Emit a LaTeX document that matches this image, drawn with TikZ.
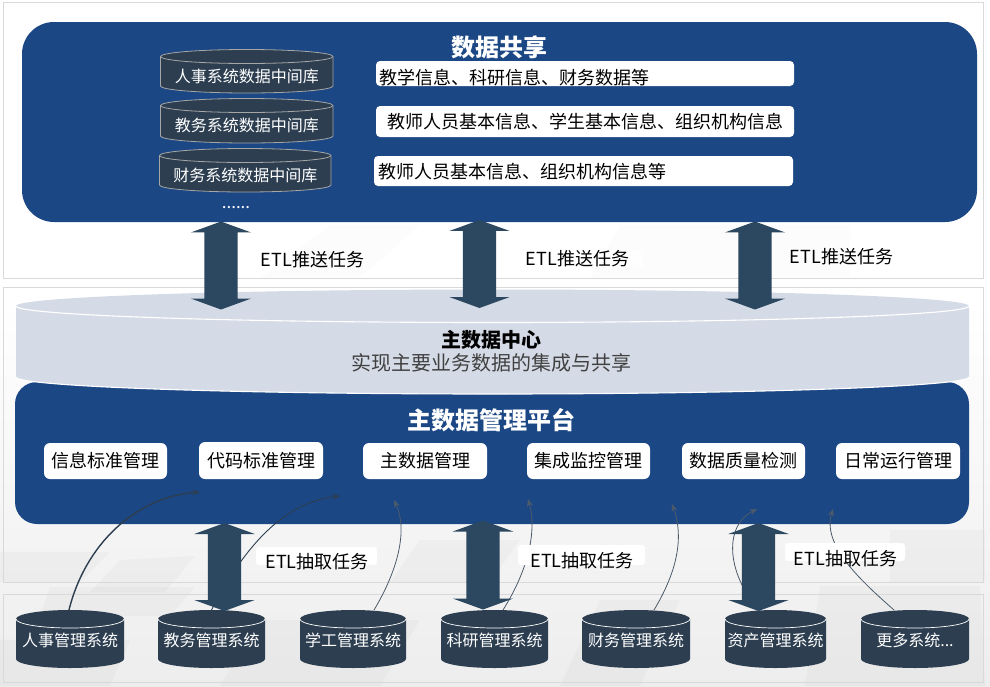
\documentclass[tikz,border=0pt]{standalone}
\usepackage{fontspec}
\setmainfont{Noto Sans CJK SC}
\usetikzlibrary{shapes.arrows,arrows.meta,calc}
\definecolor{navy}{HTML}{1C4785}
\definecolor{cyl}{HTML}{2C3E50}
\definecolor{arr}{HTML}{2C4760}
\definecolor{disk}{HTML}{D5DBE6}
\definecolor{frame}{HTML}{D9D9D9}
\newcommand{\fs}[1]{\fontsize{#1}{#1}\selectfont}
\tikzset{
  x=1pt,y=-1pt,
  panel/.style={fill=navy,rounded corners=#1},
  framebox/.style={draw=frame,line width=0.8pt},
  shard/.style={fill=black,opacity=0.025},
  whitebox/.style={fill=white,rounded corners=#1,draw=none},
  anchorbox/.style={inner sep=0pt,outer sep=0pt,draw=none},
  bigarrow/.style={shape=double arrow,fill=arr,draw=none,rotate=90,inner xsep=0pt,inner ysep=16.5pt,outer sep=0pt,
    double arrow head extend=13.5pt,double arrow tip angle=140,minimum height=#1},
  flow/.style={draw=#1,-{Stealth[length=7.5pt,width=6pt]}},
  flow/.default=cyl,
  boxtext/.style={text=black,font=\fs{18},inner sep=0pt},
  cyltext/.style={text=white,font=\fs{#1},inner sep=0pt},
  etl/.style={text=black,font=\fs{18},inner sep=0pt},
}
% #1 name, #2 x0, #3 x1, #4 y top-ellipse centre, #5 y bottom-ellipse centre, #6 ry, #7 edge, #8 text y, #9 text
\newcommand{\tank}[9]{%
  \pgfmathsetmacro{\rxx}{(#3-#2)/2}
  \path[fill=cyl,#7] (#2,#4) arc[start angle=180,end angle=0,x radius=\rxx pt,y radius=#6pt]
     -- (#3,#5) arc[start angle=360,end angle=180,x radius=\rxx pt,y radius=#6pt] -- cycle;
  \draw[#7] (#2,#4) arc[start angle=180,end angle=360,x radius=\rxx pt,y radius=#6pt];
  \node[anchorbox,minimum width={(#3-#2)*1pt},minimum height={(#5-#4+2*#6)*1pt}] (#1) at ({(#2+#3)/2},{(#4+#5)/2}) {};
  \node[cyltext=16] (#1t) at ({(#2+#3)/2},#8) {#9};
}
\begin{document}
\begin{tikzpicture}
\useasboundingbox (0,0) rectangle (990,686);
% background
\fill[white] (0,0) rectangle (990,300);
\shade[top color=white,bottom color=black!7] (0,300) rectangle (990,686);
\fill[shard] (120,560) -- (195,556) -- (165,592) -- (90,592) -- cycle;
\fill[shard] (0,552) -- (110,552) -- (80,582) -- (0,582) -- cycle;
\fill[shard] (50,587) -- (195,587) -- (170,616) -- (40,616) -- cycle;
\fill[shard] (260,620) -- (420,620) -- (380,686) -- (220,686) -- cycle;
\fill[shard] (600,600) -- (680,600) -- (640,686) -- (560,686) -- cycle;
\fill[shard] (820,586) -- (980,586) -- (985,686) -- (805,686) -- cycle;
\fill[shard] (890,530) -- (985,530) -- (985,582) -- (890,582) -- cycle;
\fill[shard] (420,540) -- (520,540) -- (490,582) -- (390,582) -- cycle;
\fill[shard] (0,640) -- (130,640) -- (110,686) -- (0,686) -- cycle;
\fill[black,opacity=0.012] (330,225) -- (420,225) -- (360,278) -- (260,278) -- cycle;
\fill[black,opacity=0.012] (620,225) -- (850,225) -- (850,278) -- (590,278) -- cycle;
% frames
\draw[framebox] (3.5,2.5) rectangle (983.5,278);
\draw[framebox] (3.5,287.5) rectangle (983.5,582);
\draw[framebox] (3.5,594.5) rectangle (983.5,682);
% top panel
\path[panel=32pt] (22,22) rectangle (977,222);
\node[text=white,font=\fs{24}\bfseries,inner sep=0pt] (share) at (499.5,47) {数据共享};
\tank{m1}{160.5}{333}{56.5}{86}{7}{draw=black!35,line width=0.8pt}{76}{人事系统数据中间库}
\tank{m2}{160.5}{333}{105.5}{136}{7}{draw=black!35,line width=0.8pt}{125}{教务系统数据中间库}
\tank{m3}{159.5}{331}{155.5}{185}{7}{draw=black!35,line width=0.8pt}{175}{财务系统数据中间库}
\node[text=white,font=\fs{17},inner sep=0pt] (dots) at (236,208) {......};
\path[whitebox=4pt] (376,61) rectangle (794,86);
\path[whitebox=4pt] (376,106) rectangle (794,137);
\path[whitebox=4pt] (374,156) rectangle (793,186);
\node[boxtext,anchor=west] (d1) at (379,77.7) {教学信息、科研信息、财务数据等};
\node[boxtext,anchor=west] (d2) at (387,121.7) {教师人员基本信息、学生基本信息、组织机构信息};
\node[boxtext,anchor=west] (d3) at (378,171.7) {教师人员基本信息、组织机构信息等};
% middle platform and disk
\path[panel=22pt] (15,382) rectangle (969,524);
\fill[disk] (16,306) arc[start angle=180,end angle=0,x radius=476.5pt,y radius=16.5pt]
  -- (969,377) arc[start angle=360,end angle=180,x radius=476.5pt,y radius=17pt] -- cycle;
\draw[white,line width=1.1pt] (16,306) arc[start angle=180,end angle=360,x radius=476.5pt,y radius=16.5pt];
\draw[white,line width=1.1pt] (16,377) arc[start angle=180,end angle=360,x radius=476.5pt,y radius=17pt];
\node[text=black,font=\fs{20}\bfseries,inner sep=0pt] (mdc) at (491.5,340) {主数据中心};
\node[text=black!75,font=\fs{20},inner sep=0pt] (mdc2) at (491.5,363) {实现主要业务数据的集成与共享};
\node[text=white,font=\fs{24}\bfseries,inner sep=0pt] (mdm) at (491.5,420) {主数据管理平台};
\foreach \n/\a/\b/\t/\lab in {
  p1/44/167/443/信息标准管理,p2/199/323/442/代码标准管理,p3/363/487/443/主数据管理,
  p4/527/650/443/集成监控管理,p5/682/805/443/数据质量检测,p6/836/960/443/日常运行管理}{
  \node[fill=white,rounded corners=6pt,inner sep=0pt,text=black,font=\fs{18},
    minimum width={(\b-\a)*1pt},minimum height={(479-\t)*1pt}] (\n) at ({(\a+\b)/2},{(\t+479)/2}) {\lab};
}
% target points on the platform
\coordinate (t1) at (200,492);
\coordinate (t2) at (340,496);
\coordinate (t3) at (394,500);
\coordinate (t4) at (528,499);
\coordinate (t5) at (672,504);
\coordinate (t6) at (757,509);
\coordinate (t7) at (833,509);
% source systems
\tank{s1}{16}{124}{619}{659}{9}{draw=none}{640}{人事管理系统}
\tank{s2}{158}{265}{619}{659}{9}{draw=none}{640}{教务管理系统}
\tank{s3}{300}{406}{619}{659}{9}{draw=none}{640}{学工管理系统}
\tank{s4}{441}{548}{619}{659}{9}{draw=none}{640}{科研管理系统}
\tank{s5}{582}{690}{619}{659}{9}{draw=none}{640}{财务管理系统}
\tank{s6}{725}{826}{619}{659}{9}{draw=none}{640}{资产管理系统}
\tank{s7}{861}{969}{619}{659}{9}{draw=none}{640}{更多系统...}
\foreach \a/\b/\c in {16/124/70,158/265/211.5,300/406/353,441/548/494.5,582/690/636,725/826/775.5,861/969/915}{
  \pgfmathsetmacro{\rxx}{(\b-\a)/2}
  \draw[white,line width=0.7pt] (\a,619) arc[start angle=180,end angle=360,x radius=\rxx pt,y radius=9pt];
}
% extraction curves
\draw[flow,line width=1.4pt] ([xshift=-1pt]s1.north) .. controls (85,545) and (135,497) .. (t1);
\draw[flow,line width=0.9pt] ([xshift=0pt]s2.north) .. controls (245,545) and (285,502) .. (t2);
\draw[flow=cyl!85,line width=0.8pt] ([xshift=21pt]s3.north) .. controls (398,570) and (408,530) .. (t3);
\draw[flow=cyl!85,line width=0.8pt] ([xshift=8.5pt]s4.north) .. controls (525,575) and (538,535) .. (t4);
\draw[flow=cyl!85,line width=0.8pt] ([xshift=18pt]s5.north) .. controls (675,575) and (685,540) .. (t5);
\draw[flow=cyl!85,line width=0.8pt] ([xshift=-17pt]s6.north) .. controls (725,570) and (725,525) .. (t6);
\draw[flow=cyl!85,line width=0.8pt] ([xshift=-21pt]s7.north) .. controls (860,580) and (822,545) .. (t7);
% ETL labels
\node[bigarrow=88pt] (a1) at (221,265.5) {};
\node[bigarrow=88pt] (a2) at (479.5,264) {};
\node[bigarrow=88pt] (a3) at (755,265.5) {};
\node[bigarrow=88pt] (b1) at (224.5,567) {};
\node[bigarrow=89pt] (b2) at (483,565) {};
\node[bigarrow=88pt] (b3) at (758.5,567) {};
\node[etl] (l1) at (312.5,259.7) {ETL推送任务};
\node[etl,fill=white,fill opacity=0.7,text opacity=1,inner xsep=14pt] (l2) at (577.5,258.7) {ETL推送任务};
\node[etl] (l3) at (841.5,256.7) {ETL推送任务};
\path[whitebox=3pt] (256,547) rectangle (377,565);
\path[whitebox=3pt] (518,545) rectangle (645,565);
\path[whitebox=3pt] (785,543) rectangle (905,561);
\node[etl] (e1) at (317,561.5) {ETL抽取任务};
\node[etl] (e2) at (582,560.5) {ETL抽取任务};
\node[etl] (e3) at (845.5,558.5) {ETL抽取任务};
\end{tikzpicture}
\end{document}
